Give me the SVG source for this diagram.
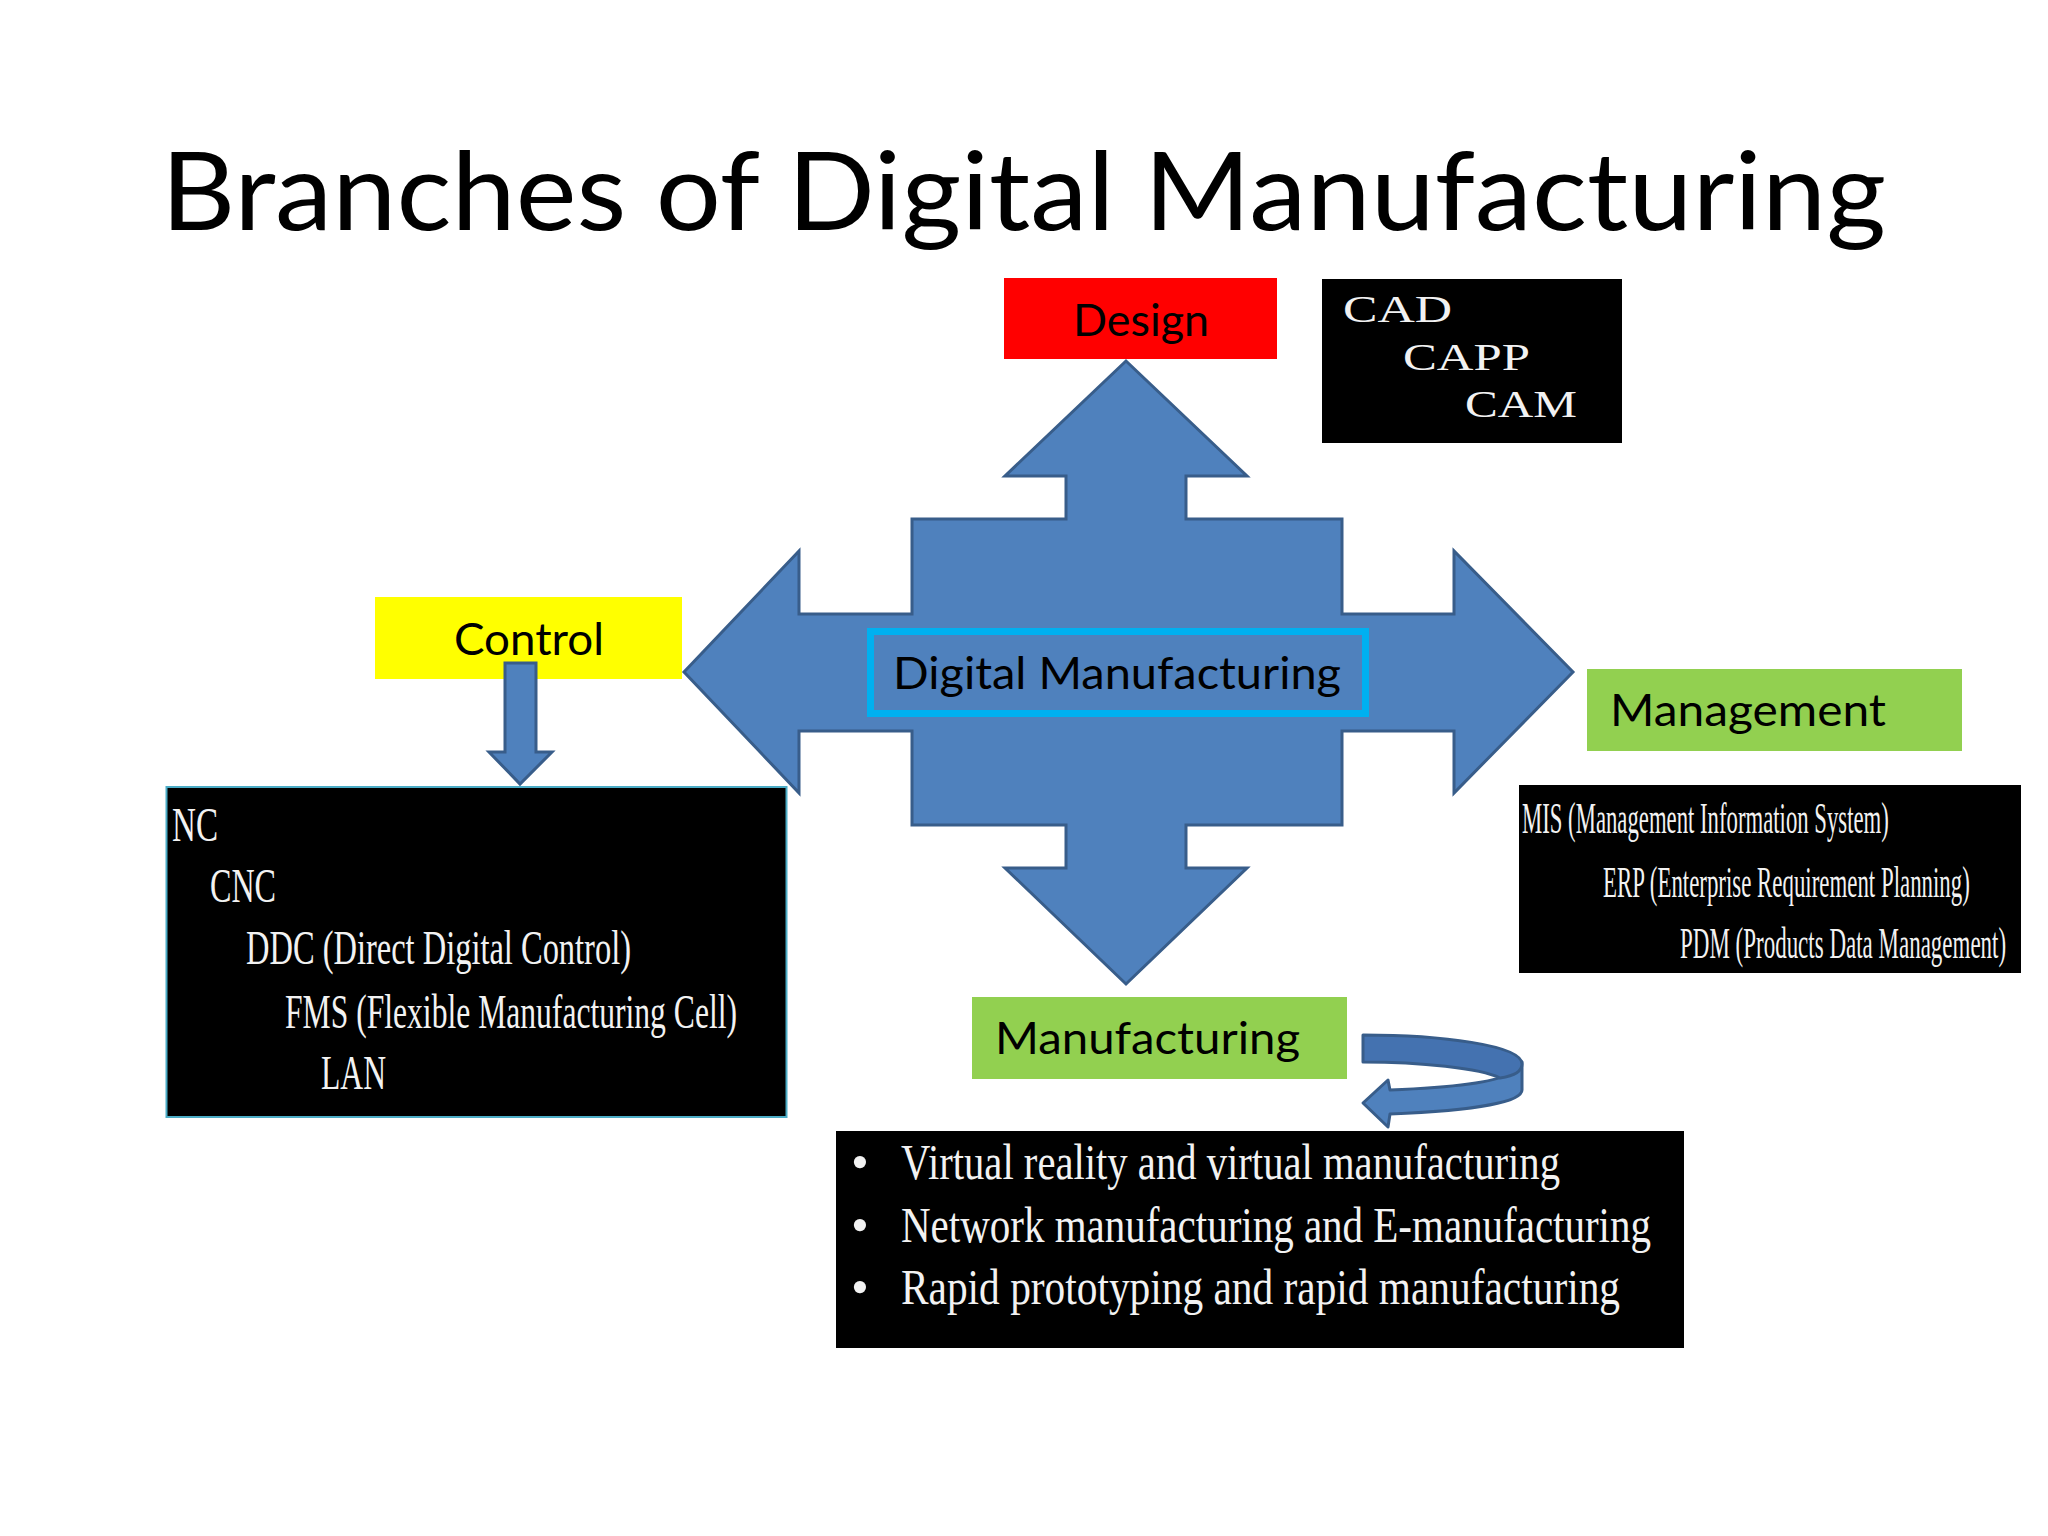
<svg xmlns="http://www.w3.org/2000/svg" width="2048" height="1536" viewBox="0 0 2048 1536">
<style>
.lbl{font-family:Lato,"Open Sans","Liberation Sans",sans-serif;font-size:45px;fill:#000}
.ser{font-family:"Liberation Serif","DejaVu Serif",serif;fill:#F2F2F2}
.blk{fill:#000}
.arr{fill:#4F81BD;stroke:#385D8A;stroke-width:3;stroke-linejoin:miter}
</style>
<rect width="2048" height="1536" fill="#FFFFFF"/>
<text id="title" x="161" y="230" font-family="Lato,'Open Sans','Liberation Sans',sans-serif" font-size="108" fill="#000" textLength="1725" lengthAdjust="spacingAndGlyphs">Branches of Digital Manufacturing</text>

<g id="hub">
<path class="arr" d="M1126,361 L1247,476 L1186,476 L1186,519 L1342,519 L1342,614 L1454,614 L1454,551 L1573,672 L1454,793 L1454,731 L1342,731 L1342,825 L1186,825 L1186,868 L1247,868 L1126,984 L1005,868 L1066,868 L1066,825 L912,825 L912,731 L799,731 L799,793 L684,672 L799,551 L799,614 L912,614 L912,519 L1066,519 L1066,476 L1005,476 Z"/>
<rect x="870.5" y="631.5" width="495" height="82" fill="#4F81BD" stroke="#00B0F0" stroke-width="7"/>
<text class="lbl" x="893" y="689" textLength="448" lengthAdjust="spacingAndGlyphs">Digital Manufacturing</text>
</g>

<g id="design">
<rect x="1004" y="278" width="273" height="81" fill="#FF0000"/>
<text class="lbl" x="1073" y="336" textLength="136" lengthAdjust="spacingAndGlyphs">Design</text>
</g>

<g id="design-tools">
<rect class="blk" x="1322" y="279" width="300" height="164"/>
<text class="ser" x="1343" y="322" font-size="37" textLength="109" lengthAdjust="spacingAndGlyphs">CAD</text>
<text class="ser" x="1403" y="370" font-size="37" textLength="127" lengthAdjust="spacingAndGlyphs">CAPP</text>
<text class="ser" x="1465" y="417" font-size="37" textLength="112" lengthAdjust="spacingAndGlyphs">CAM</text>
</g>

<g id="control">
<rect x="375" y="597" width="307" height="82" fill="#FFFF00"/>
<text class="lbl" x="454" y="655" textLength="150" lengthAdjust="spacingAndGlyphs">Control</text>
</g>

<g id="control-list">
<rect class="blk" x="166.5" y="787" width="620" height="330" stroke="#4BACC6" stroke-width="2"/>
<text class="ser" x="172" y="841" font-size="48" textLength="46" lengthAdjust="spacingAndGlyphs">NC</text>
<text class="ser" x="210" y="902" font-size="48" textLength="66" lengthAdjust="spacingAndGlyphs">CNC</text>
<text class="ser" x="246" y="964" font-size="48" textLength="385" lengthAdjust="spacingAndGlyphs">DDC (Direct Digital Control)</text>
<text class="ser" x="285" y="1028" font-size="48" textLength="452" lengthAdjust="spacingAndGlyphs">FMS (Flexible Manufacturing Cell)</text>
<text class="ser" x="321" y="1089" font-size="48" textLength="65" lengthAdjust="spacingAndGlyphs">LAN</text>
</g>

<g id="management">
<rect x="1587" y="669" width="375" height="82" fill="#92D050"/>
<text class="lbl" x="1610" y="726" textLength="276" lengthAdjust="spacingAndGlyphs">Management</text>
</g>

<g id="management-list">
<rect class="blk" x="1519" y="785" width="502" height="188"/>
<text class="ser" transform="translate(1522,833) scale(0.55,1)" x="0" y="0" font-size="45" textLength="667" lengthAdjust="spacingAndGlyphs">MIS (Management Information System)</text>
<text class="ser" transform="translate(1603,897) scale(0.55,1)" x="0" y="0" font-size="45" textLength="667" lengthAdjust="spacingAndGlyphs">ERP (Enterprise Requirement Planning)</text>
<text class="ser" transform="translate(1680,958) scale(0.55,1)" x="0" y="0" font-size="45" textLength="593" lengthAdjust="spacingAndGlyphs">PDM (Products Data Management)</text>
</g>

<g id="manufacturing">
<rect x="972" y="997" width="375" height="82" fill="#92D050"/>
<text class="lbl" x="995" y="1054" textLength="305" lengthAdjust="spacingAndGlyphs">Manufacturing</text>
</g>

<g id="manufacturing-list">
<rect class="blk" x="836" y="1131" width="848" height="217"/>
<text class="ser" x="851" y="1179" font-size="51">•</text>
<text class="ser" x="851" y="1242" font-size="51">•</text>
<text class="ser" x="851" y="1304" font-size="51">•</text>
<text class="ser" x="901" y="1179" font-size="51" textLength="659" lengthAdjust="spacingAndGlyphs">Virtual reality and virtual manufacturing</text>
<text class="ser" x="901" y="1242" font-size="51" textLength="750" lengthAdjust="spacingAndGlyphs">Network manufacturing and E-manufacturing</text>
<text class="ser" x="901" y="1304" font-size="51" textLength="719" lengthAdjust="spacingAndGlyphs">Rapid prototyping and rapid manufacturing</text>
</g>

<g id="connectors">
<path class="arr" d="M505,663 L536,663 L536,752 L552,752 L520,784 L489,752 L505,752 Z"/>
<path fill="#4F81BD" stroke="#385D8A" stroke-width="3" stroke-linejoin="round" d="M1522,1062 C1522,1078 1522,1085 1522,1090 C1522,1106 1440,1112 1390,1114 L1388,1127 L1363,1103 L1388,1080 L1390,1090 C1440,1088 1492,1084 1508,1074 Z"/>
<path fill="#4472B0" stroke="#385D8A" stroke-width="3" stroke-linejoin="round" d="M1363,1035 C1440,1035 1522,1045 1522,1064 C1522,1072 1514,1076 1500,1078 C1480,1068 1420,1062 1363,1062 Z"/>
</g>
</svg>
